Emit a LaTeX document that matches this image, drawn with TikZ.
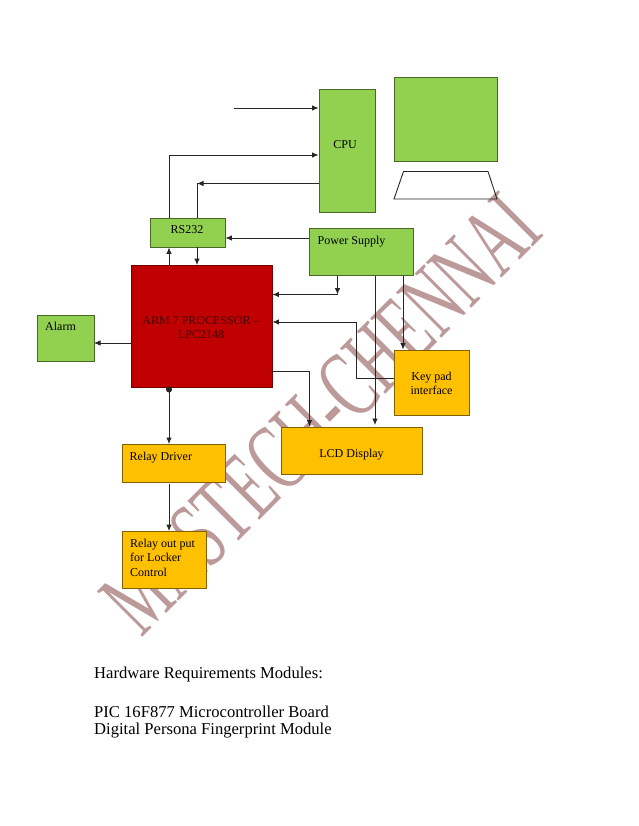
\documentclass[tikz,border=0pt]{standalone}
\usetikzlibrary{arrows.meta}
\usepackage{fontspec}
\setmainfont{Liberation Serif}
\definecolor{boxgreen}{HTML}{92D050}
\definecolor{boxred}{HTML}{C00000}
\definecolor{boxamber}{HTML}{FFC000}
\definecolor{markcol}{HTML}{BC9A9A}
\tikzset{
  gbox/.style={draw=black!50!boxgreen,fill=boxgreen,line width=0.9pt,inner sep=0pt},
  rbox/.style={draw=black!40!boxred,fill=boxred,line width=0.9pt,inner sep=0pt},
  abox/.style={draw=black!50!boxamber,fill=boxamber,line width=0.9pt,inner sep=0pt},
  lbl/.style={font=\fontsize{12}{14.5}\selectfont,inner sep=0pt,align=left},
  biglbl/.style={font=\fontsize{16.6}{20}\selectfont,anchor=west,inner sep=0pt},
  wire/.style={draw=black!85,line width=0.9pt,-{Latex[length=6.5pt,width=5.5pt]}},
  line/.style={draw=black!85,line width=0.9pt},
}
\begin{document}
\begin{tikzpicture}[x=1pt,y=-1pt]
    \useasboundingbox (0,0) rectangle (638,826);
    % watermark goes under the boxes
    \node[rotate=45,xscale=0.607,transform shape,text=markcol,font=\fontsize{98}{98}\selectfont,inner sep=0pt] (mark) at (321,414) {MASTECH-CHENNAI};
    % boxes
    \node[gbox,minimum width=56pt,minimum height=123pt] (cpu) at (347,150.5) {};
    \node[gbox,minimum width=103pt,minimum height=84.5pt] (monitor) at (445.5,119.25) {};
    \node[gbox,minimum width=75pt,minimum height=28.5pt] (rs232) at (187.5,232.75) {};
    \node[gbox,minimum width=103.5pt,minimum height=47pt] (power) at (361.25,252) {};
    \node[rbox,minimum width=141pt,minimum height=121.5pt] (arm) at (201.5,326.25) {};
    \node[gbox,minimum width=56.5pt,minimum height=46pt] (alarm) at (65.75,338) {};
    \node[abox,minimum width=75pt,minimum height=65.5pt] (keypad) at (431.5,382.75) {};
    \node[abox,minimum width=140.5pt,minimum height=47pt] (lcd) at (351.75,450.5) {};
    \node[abox,minimum width=103pt,minimum height=37.5pt] (driver) at (173.5,463.25) {};
    \node[abox,minimum width=84.5pt,minimum height=57pt] (relayout) at (164.25,560) {};
    \draw[black!85,line width=0.9pt] (403.5,171.5) -- (488,171.5) -- (497,199) -- (394,199) -- cycle;
    % box texts
    \node[lbl] (cpulbl) at (345,144.5) {CPU};
    \node[lbl] (rslbl) at (187,229.5) {RS232};
    \node[lbl,anchor=west] (powerlbl) at (317.5,241.5) {Power Supply};
    \node[lbl,align=center,text=black!65!boxred] (armlbl) at (201,327.5) {ARM 7 PROCESSOR --\\LPC2148};
    \node[lbl,anchor=west] (alarmlbl) at (45,326.5) {Alarm};
    \node[lbl,align=center] (keylbl) at (431.5,383.5) {Key pad\\interface};
    \node[lbl] (lcdlbl) at (351.5,455) {LCD Display};
    \node[lbl,anchor=west] (driverlbl) at (129.5,458) {Relay Driver};
    \node[lbl,anchor=north west] (relaylbl) at (130,538.5) {Relay out put\\for Locker\\Control};
    % routing points
    \coordinate (feed) at (234,108);
    \coordinate (upA) at (169,155);
    \coordinate (downA) at (197,183.5);
    \coordinate (psA) at (337.5,294.5);
    \coordinate (psB) at (375,425);
    \coordinate (psC) at (403,350);
    \coordinate (keyA) at (356.5,378);
    \coordinate (keyB) at (356.5,322);
    \coordinate (lcdA) at (309.5,371);
    \coordinate (alarmA) at (94,343);
    \coordinate (relayA) at (169,484);
    % connectors
    \draw[wire] (feed) -- (feed -| cpu.west);
    \draw[line] (upA |- rs232.north) -- (upA);
    \draw[wire] (upA) -- (upA -| cpu.west);
    \draw[wire] (downA -| cpu.west) -- (downA);
    \draw[line] (downA) -- (downA |- rs232.north);
    \draw[wire] (power.west |- 0,238) -- (rs232.east |- 0,238);
    \draw[wire] (upA |- arm.north) -- (upA |- rs232.south);
    \draw[wire] (downA |- rs232.south) -- (downA |- arm.north);
    \draw[wire] (psA |- power.south) -- (psA);
    \draw[wire] (psA) -- (psA -| arm.east);
    \draw[wire] (psB |- power.south) -- (psB);
    \draw[wire] (psC |- power.south) -- (psC |- keypad.north);
    \draw[line] (keyA -| keypad.west) -- (keyA) -- (keyB);
    \draw[wire] (keyB) -- (keyB -| arm.east);
    \draw[line] (lcdA -| arm.east) -- (lcdA);
    \draw[wire] (lcdA) -- (lcdA |- lcd.north);
    \draw[wire] (alarmA -| arm.west) -- (alarmA);
    \draw[wire,{Circle[length=6pt]}-{Latex[length=6.5pt,width=5.5pt]},shorten <=-1pt] (upA |- arm.south) -- (upA |- driver.north);
    \draw[wire] (relayA) -- (relayA |- relayout.north);
    % bottom text
    \node[biglbl] (hwlbl) at (94,674) {Hardware Requirements Modules:};
    \node[biglbl] (piclbl) at (94,711.5) {PIC 16F877 Microcontroller Board};
    \node[biglbl] (fplbl) at (94,730.5) {Digital Persona Fingerprint Module};
\end{tikzpicture}
\end{document}
